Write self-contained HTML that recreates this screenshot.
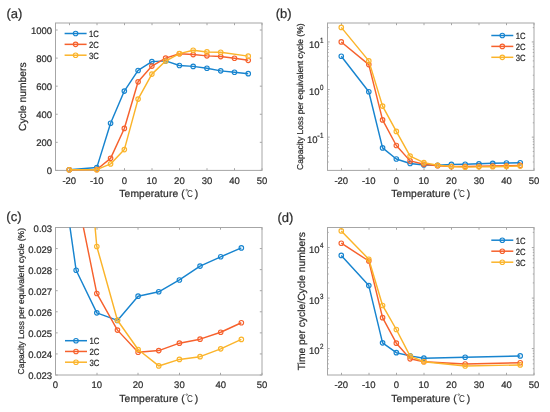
<!DOCTYPE html>
<html><head><meta charset="utf-8"><style>html,body{margin:0;padding:0;width:550px;height:412px;overflow:hidden;background:#fff}</style></head><body>
<svg width="550" height="412" viewBox="0 0 550 412" style="position:absolute;left:0;top:0;will-change:transform" text-rendering="geometricPrecision" font-family="'Liberation Sans', sans-serif" fill="#2e2e2e">
<style>text{stroke:#2e2e2e;stroke-width:0.22px}</style>
<rect width="550" height="412" fill="#fff"/>
<rect x="55.5" y="23.0" width="206.5" height="147.4" fill="none" stroke="#a6a6a6" stroke-width="1"/>
<path d="M69.5 170.4V168.20000000000002M69.5 23.0V25.2M97.0 170.4V168.20000000000002M97.0 23.0V25.2M124.5 170.4V168.20000000000002M124.5 23.0V25.2M152.0 170.4V168.20000000000002M152.0 23.0V25.2M179.5 170.4V168.20000000000002M179.5 23.0V25.2M207.0 170.4V168.20000000000002M207.0 23.0V25.2M234.5 170.4V168.20000000000002M234.5 23.0V25.2M262.0 170.4V168.20000000000002M262.0 23.0V25.2M55.5 170.40H57.7M262 170.40H259.8M55.5 142.32H57.7M262 142.32H259.8M55.5 114.25H57.7M262 114.25H259.8M55.5 86.17H57.7M262 86.17H259.8M55.5 58.10H57.7M262 58.10H259.8M55.5 30.02H57.7M262 30.02H259.8" stroke="#a6a6a6" stroke-width="1" fill="none"/>
<text x="69.27" y="183.60" text-anchor="middle" font-size="9.5">-20</text>
<text x="96.80" y="183.60" text-anchor="middle" font-size="9.5">-10</text>
<text x="124.33" y="183.60" text-anchor="middle" font-size="9.5">0</text>
<text x="151.87" y="183.60" text-anchor="middle" font-size="9.5">10</text>
<text x="179.40" y="183.60" text-anchor="middle" font-size="9.5">20</text>
<text x="206.93" y="183.60" text-anchor="middle" font-size="9.5">30</text>
<text x="234.47" y="183.60" text-anchor="middle" font-size="9.5">40</text>
<text x="262.00" y="183.60" text-anchor="middle" font-size="9.5">50</text>
<text x="52.10" y="174.20" text-anchor="end" font-size="9.5">0</text>
<text x="52.10" y="146.12" text-anchor="end" font-size="9.5">200</text>
<text x="52.10" y="118.05" text-anchor="end" font-size="9.5">400</text>
<text x="52.10" y="89.97" text-anchor="end" font-size="9.5">600</text>
<text x="52.10" y="61.90" text-anchor="end" font-size="9.5">800</text>
<text x="52.10" y="33.82" text-anchor="end" font-size="9.5">1000</text>
<g><polyline points="69.27,169.70 96.80,167.59 110.57,123.23 124.33,91.08 138.10,70.45 151.87,61.60 165.63,60.90 179.40,65.54 193.17,66.38 206.93,68.20 220.70,70.87 234.47,72.27 248.23,73.68" fill="none" stroke="#1784CF" stroke-width="1.45" stroke-linejoin="round"/>
<circle cx="69.27" cy="169.70" r="2.25" fill="none" stroke="#1784CF" stroke-width="1.15"/>
<circle cx="96.80" cy="167.59" r="2.25" fill="none" stroke="#1784CF" stroke-width="1.15"/>
<circle cx="110.57" cy="123.23" r="2.25" fill="none" stroke="#1784CF" stroke-width="1.15"/>
<circle cx="124.33" cy="91.08" r="2.25" fill="none" stroke="#1784CF" stroke-width="1.15"/>
<circle cx="138.10" cy="70.45" r="2.25" fill="none" stroke="#1784CF" stroke-width="1.15"/>
<circle cx="151.87" cy="61.60" r="2.25" fill="none" stroke="#1784CF" stroke-width="1.15"/>
<circle cx="165.63" cy="60.90" r="2.25" fill="none" stroke="#1784CF" stroke-width="1.15"/>
<circle cx="179.40" cy="65.54" r="2.25" fill="none" stroke="#1784CF" stroke-width="1.15"/>
<circle cx="193.17" cy="66.38" r="2.25" fill="none" stroke="#1784CF" stroke-width="1.15"/>
<circle cx="206.93" cy="68.20" r="2.25" fill="none" stroke="#1784CF" stroke-width="1.15"/>
<circle cx="220.70" cy="70.87" r="2.25" fill="none" stroke="#1784CF" stroke-width="1.15"/>
<circle cx="234.47" cy="72.27" r="2.25" fill="none" stroke="#1784CF" stroke-width="1.15"/>
<circle cx="248.23" cy="73.68" r="2.25" fill="none" stroke="#1784CF" stroke-width="1.15"/>
</g>
<g><polyline points="69.27,169.70 96.80,169.56 110.57,158.33 124.33,128.43 138.10,81.82 151.87,66.10 165.63,58.10 179.40,53.74 193.17,54.59 206.93,55.85 220.70,56.55 234.47,58.24 248.23,60.34" fill="none" stroke="#F6612D" stroke-width="1.45" stroke-linejoin="round"/>
<circle cx="69.27" cy="169.70" r="2.25" fill="none" stroke="#F6612D" stroke-width="1.15"/>
<circle cx="96.80" cy="169.56" r="2.25" fill="none" stroke="#F6612D" stroke-width="1.15"/>
<circle cx="110.57" cy="158.33" r="2.25" fill="none" stroke="#F6612D" stroke-width="1.15"/>
<circle cx="124.33" cy="128.43" r="2.25" fill="none" stroke="#F6612D" stroke-width="1.15"/>
<circle cx="138.10" cy="81.82" r="2.25" fill="none" stroke="#F6612D" stroke-width="1.15"/>
<circle cx="151.87" cy="66.10" r="2.25" fill="none" stroke="#F6612D" stroke-width="1.15"/>
<circle cx="165.63" cy="58.10" r="2.25" fill="none" stroke="#F6612D" stroke-width="1.15"/>
<circle cx="179.40" cy="53.74" r="2.25" fill="none" stroke="#F6612D" stroke-width="1.15"/>
<circle cx="193.17" cy="54.59" r="2.25" fill="none" stroke="#F6612D" stroke-width="1.15"/>
<circle cx="206.93" cy="55.85" r="2.25" fill="none" stroke="#F6612D" stroke-width="1.15"/>
<circle cx="220.70" cy="56.55" r="2.25" fill="none" stroke="#F6612D" stroke-width="1.15"/>
<circle cx="234.47" cy="58.24" r="2.25" fill="none" stroke="#F6612D" stroke-width="1.15"/>
<circle cx="248.23" cy="60.34" r="2.25" fill="none" stroke="#F6612D" stroke-width="1.15"/>
</g>
<g><polyline points="69.27,169.70 96.80,169.70 110.57,163.94 124.33,149.62 138.10,99.09 151.87,74.10 165.63,61.04 179.40,53.60 193.17,50.23 206.93,51.92 220.70,52.20 248.23,56.13" fill="none" stroke="#FBB42A" stroke-width="1.45" stroke-linejoin="round"/>
<circle cx="69.27" cy="169.70" r="2.25" fill="none" stroke="#FBB42A" stroke-width="1.15"/>
<circle cx="96.80" cy="169.70" r="2.25" fill="none" stroke="#FBB42A" stroke-width="1.15"/>
<circle cx="110.57" cy="163.94" r="2.25" fill="none" stroke="#FBB42A" stroke-width="1.15"/>
<circle cx="124.33" cy="149.62" r="2.25" fill="none" stroke="#FBB42A" stroke-width="1.15"/>
<circle cx="138.10" cy="99.09" r="2.25" fill="none" stroke="#FBB42A" stroke-width="1.15"/>
<circle cx="151.87" cy="74.10" r="2.25" fill="none" stroke="#FBB42A" stroke-width="1.15"/>
<circle cx="165.63" cy="61.04" r="2.25" fill="none" stroke="#FBB42A" stroke-width="1.15"/>
<circle cx="179.40" cy="53.60" r="2.25" fill="none" stroke="#FBB42A" stroke-width="1.15"/>
<circle cx="193.17" cy="50.23" r="2.25" fill="none" stroke="#FBB42A" stroke-width="1.15"/>
<circle cx="206.93" cy="51.92" r="2.25" fill="none" stroke="#FBB42A" stroke-width="1.15"/>
<circle cx="220.70" cy="52.20" r="2.25" fill="none" stroke="#FBB42A" stroke-width="1.15"/>
<circle cx="248.23" cy="56.13" r="2.25" fill="none" stroke="#FBB42A" stroke-width="1.15"/>
</g>
<path d="M64.6 33.50H86.6" stroke="#1784CF" stroke-width="1.5"/>
<circle cx="75.6" cy="33.50" r="2.25" fill="none" stroke="#1784CF" stroke-width="1.15"/>
<text x="89.0" y="36.80" font-size="9" textLength="9.9" lengthAdjust="spacingAndGlyphs">1C</text>
<path d="M64.6 44.35H86.6" stroke="#F6612D" stroke-width="1.5"/>
<circle cx="75.6" cy="44.35" r="2.25" fill="none" stroke="#F6612D" stroke-width="1.15"/>
<text x="89.0" y="47.65" font-size="9" textLength="9.9" lengthAdjust="spacingAndGlyphs">2C</text>
<path d="M64.6 55.20H86.6" stroke="#FBB42A" stroke-width="1.5"/>
<circle cx="75.6" cy="55.20" r="2.25" fill="none" stroke="#FBB42A" stroke-width="1.15"/>
<text x="89.0" y="58.50" font-size="9" textLength="9.9" lengthAdjust="spacingAndGlyphs">3C</text>
<text x="119.35" y="197" font-size="10.3" letter-spacing="0.1">Temperature (</text>
<circle cx="186.75" cy="190.10" r="0.8" fill="none" stroke="#2e2e2e" stroke-width="0.55"/>
<text x="186.95" y="197.10" font-size="10" style="stroke-width:0" textLength="5.9" lengthAdjust="spacingAndGlyphs">C</text>
<text x="194.65" y="197" font-size="10.3">)</text>
<text transform="translate(26.2,96.70) rotate(-90)" text-anchor="middle" font-size="10.3">Cycle numbers</text>
<text x="6.5" y="18.3" font-size="13">(a)</text>
<rect x="327.5" y="23.0" width="206.5" height="147.4" fill="none" stroke="#a6a6a6" stroke-width="1"/>
<path d="M341.5 170.4V168.20000000000002M341.5 23.0V25.2M369.0 170.4V168.20000000000002M369.0 23.0V25.2M396.5 170.4V168.20000000000002M396.5 23.0V25.2M424.0 170.4V168.20000000000002M424.0 23.0V25.2M451.5 170.4V168.20000000000002M451.5 23.0V25.2M479.0 170.4V168.20000000000002M479.0 23.0V25.2M506.5 170.4V168.20000000000002M506.5 23.0V25.2M534.0 170.4V168.20000000000002M534.0 23.0V25.2M327.5 137.13H329.7M534 137.13H531.8M327.5 89.54H329.7M534 89.54H531.8M327.5 41.94H329.7M534 41.94H531.8M327.5 162.02H328.7M534 162.02H532.8M327.5 156.07H328.7M534 156.07H532.8M327.5 151.46H328.7M534 151.46H532.8M327.5 147.69H328.7M534 147.69H532.8M327.5 144.50H328.7M534 144.50H532.8M327.5 141.74H328.7M534 141.74H532.8M327.5 139.31H328.7M534 139.31H532.8M327.5 122.80H328.7M534 122.80H532.8M327.5 114.42H328.7M534 114.42H532.8M327.5 108.48H328.7M534 108.48H532.8M327.5 103.86H328.7M534 103.86H532.8M327.5 100.10H328.7M534 100.10H532.8M327.5 96.91H328.7M534 96.91H532.8M327.5 94.15H328.7M534 94.15H532.8M327.5 91.71H328.7M534 91.71H532.8M327.5 75.21H328.7M534 75.21H532.8M327.5 66.83H328.7M534 66.83H532.8M327.5 60.88H328.7M534 60.88H532.8M327.5 56.27H328.7M534 56.27H532.8M327.5 52.50H328.7M534 52.50H532.8M327.5 49.31H328.7M534 49.31H532.8M327.5 46.55H328.7M534 46.55H532.8M327.5 44.12H328.7M534 44.12H532.8M327.5 27.61H328.7M534 27.61H532.8" stroke="#a6a6a6" stroke-width="1" fill="none"/>
<text x="341.27" y="183.60" text-anchor="middle" font-size="9.5">-20</text>
<text x="368.80" y="183.60" text-anchor="middle" font-size="9.5">-10</text>
<text x="396.33" y="183.60" text-anchor="middle" font-size="9.5">0</text>
<text x="423.87" y="183.60" text-anchor="middle" font-size="9.5">10</text>
<text x="451.40" y="183.60" text-anchor="middle" font-size="9.5">20</text>
<text x="478.93" y="183.60" text-anchor="middle" font-size="9.5">30</text>
<text x="506.47" y="183.60" text-anchor="middle" font-size="9.5">40</text>
<text x="534.00" y="183.60" text-anchor="middle" font-size="9.5">50</text>
<text x="319.50" y="47.54" text-anchor="end" font-size="9.5">10</text>
<text transform="translate(319.90,42.54) scale(0.82,1)" font-size="7.6">1</text>
<text x="319.50" y="95.14" text-anchor="end" font-size="9.5">10</text>
<text transform="translate(319.90,90.14) scale(0.82,1)" font-size="7.6">0</text>
<text x="317.60" y="142.73" text-anchor="end" font-size="9.5">10</text>
<path d="M317.40 136.13H319.60" stroke="#2e2e2e" stroke-width="1"/>
<text transform="translate(319.90,137.73) scale(0.82,1)" font-size="7.6">1</text>
<g><polyline points="341.27,56.27 368.80,91.71 382.57,147.93 396.33,158.95 410.10,163.47 423.87,165.02 437.63,165.31 451.40,164.40 465.17,164.23 478.93,163.81 492.70,163.32 506.47,163.00 520.23,162.70" fill="none" stroke="#1784CF" stroke-width="1.45" stroke-linejoin="round"/>
<circle cx="341.27" cy="56.27" r="2.25" fill="none" stroke="#1784CF" stroke-width="1.15"/>
<circle cx="368.80" cy="91.71" r="2.25" fill="none" stroke="#1784CF" stroke-width="1.15"/>
<circle cx="382.57" cy="147.93" r="2.25" fill="none" stroke="#1784CF" stroke-width="1.15"/>
<circle cx="396.33" cy="158.95" r="2.25" fill="none" stroke="#1784CF" stroke-width="1.15"/>
<circle cx="410.10" cy="163.47" r="2.25" fill="none" stroke="#1784CF" stroke-width="1.15"/>
<circle cx="423.87" cy="165.02" r="2.25" fill="none" stroke="#1784CF" stroke-width="1.15"/>
<circle cx="437.63" cy="165.31" r="2.25" fill="none" stroke="#1784CF" stroke-width="1.15"/>
<circle cx="451.40" cy="164.40" r="2.25" fill="none" stroke="#1784CF" stroke-width="1.15"/>
<circle cx="465.17" cy="164.23" r="2.25" fill="none" stroke="#1784CF" stroke-width="1.15"/>
<circle cx="478.93" cy="163.81" r="2.25" fill="none" stroke="#1784CF" stroke-width="1.15"/>
<circle cx="492.70" cy="163.32" r="2.25" fill="none" stroke="#1784CF" stroke-width="1.15"/>
<circle cx="506.47" cy="163.00" r="2.25" fill="none" stroke="#1784CF" stroke-width="1.15"/>
<circle cx="520.23" cy="162.70" r="2.25" fill="none" stroke="#1784CF" stroke-width="1.15"/>
</g>
<g><polyline points="341.27,41.94 368.80,64.61 382.57,119.92 396.33,145.50 410.10,160.88 423.87,164.30 437.63,165.68 451.40,166.56 465.17,166.49 478.93,166.20 492.70,166.04 506.47,165.76 520.23,165.39" fill="none" stroke="#F6612D" stroke-width="1.45" stroke-linejoin="round"/>
<circle cx="341.27" cy="41.94" r="2.25" fill="none" stroke="#F6612D" stroke-width="1.15"/>
<circle cx="368.80" cy="64.61" r="2.25" fill="none" stroke="#F6612D" stroke-width="1.15"/>
<circle cx="382.57" cy="119.92" r="2.25" fill="none" stroke="#F6612D" stroke-width="1.15"/>
<circle cx="396.33" cy="145.50" r="2.25" fill="none" stroke="#F6612D" stroke-width="1.15"/>
<circle cx="410.10" cy="160.88" r="2.25" fill="none" stroke="#F6612D" stroke-width="1.15"/>
<circle cx="423.87" cy="164.30" r="2.25" fill="none" stroke="#F6612D" stroke-width="1.15"/>
<circle cx="437.63" cy="165.68" r="2.25" fill="none" stroke="#F6612D" stroke-width="1.15"/>
<circle cx="451.40" cy="166.56" r="2.25" fill="none" stroke="#F6612D" stroke-width="1.15"/>
<circle cx="465.17" cy="166.49" r="2.25" fill="none" stroke="#F6612D" stroke-width="1.15"/>
<circle cx="478.93" cy="166.20" r="2.25" fill="none" stroke="#F6612D" stroke-width="1.15"/>
<circle cx="492.70" cy="166.04" r="2.25" fill="none" stroke="#F6612D" stroke-width="1.15"/>
<circle cx="506.47" cy="165.76" r="2.25" fill="none" stroke="#F6612D" stroke-width="1.15"/>
<circle cx="520.23" cy="165.39" r="2.25" fill="none" stroke="#F6612D" stroke-width="1.15"/>
</g>
<g><polyline points="341.27,27.41 368.80,60.88 382.57,106.09 396.33,131.39 410.10,156.07 423.87,162.65 437.63,165.30 451.40,166.45 465.17,167.13 478.93,166.86 492.70,166.74 506.47,166.43 520.23,166.05" fill="none" stroke="#FBB42A" stroke-width="1.45" stroke-linejoin="round"/>
<circle cx="341.27" cy="27.41" r="2.25" fill="none" stroke="#FBB42A" stroke-width="1.15"/>
<circle cx="368.80" cy="60.88" r="2.25" fill="none" stroke="#FBB42A" stroke-width="1.15"/>
<circle cx="382.57" cy="106.09" r="2.25" fill="none" stroke="#FBB42A" stroke-width="1.15"/>
<circle cx="396.33" cy="131.39" r="2.25" fill="none" stroke="#FBB42A" stroke-width="1.15"/>
<circle cx="410.10" cy="156.07" r="2.25" fill="none" stroke="#FBB42A" stroke-width="1.15"/>
<circle cx="423.87" cy="162.65" r="2.25" fill="none" stroke="#FBB42A" stroke-width="1.15"/>
<circle cx="437.63" cy="165.30" r="2.25" fill="none" stroke="#FBB42A" stroke-width="1.15"/>
<circle cx="451.40" cy="166.45" r="2.25" fill="none" stroke="#FBB42A" stroke-width="1.15"/>
<circle cx="465.17" cy="167.13" r="2.25" fill="none" stroke="#FBB42A" stroke-width="1.15"/>
<circle cx="478.93" cy="166.86" r="2.25" fill="none" stroke="#FBB42A" stroke-width="1.15"/>
<circle cx="492.70" cy="166.74" r="2.25" fill="none" stroke="#FBB42A" stroke-width="1.15"/>
<circle cx="506.47" cy="166.43" r="2.25" fill="none" stroke="#FBB42A" stroke-width="1.15"/>
<circle cx="520.23" cy="166.05" r="2.25" fill="none" stroke="#FBB42A" stroke-width="1.15"/>
</g>
<path d="M491.3 35.50H513.3" stroke="#1784CF" stroke-width="1.5"/>
<circle cx="502.3" cy="35.50" r="2.25" fill="none" stroke="#1784CF" stroke-width="1.15"/>
<text x="515.6999999999999" y="38.80" font-size="9" textLength="9.9" lengthAdjust="spacingAndGlyphs">1C</text>
<path d="M491.3 46.40H513.3" stroke="#F6612D" stroke-width="1.5"/>
<circle cx="502.3" cy="46.40" r="2.25" fill="none" stroke="#F6612D" stroke-width="1.15"/>
<text x="515.6999999999999" y="49.70" font-size="9" textLength="9.9" lengthAdjust="spacingAndGlyphs">2C</text>
<path d="M491.3 57.30H513.3" stroke="#FBB42A" stroke-width="1.5"/>
<circle cx="502.3" cy="57.30" r="2.25" fill="none" stroke="#FBB42A" stroke-width="1.15"/>
<text x="515.6999999999999" y="60.60" font-size="9" textLength="9.9" lengthAdjust="spacingAndGlyphs">3C</text>
<text x="391.35" y="197" font-size="10.3" letter-spacing="0.1">Temperature (</text>
<circle cx="458.75" cy="190.10" r="0.8" fill="none" stroke="#2e2e2e" stroke-width="0.55"/>
<text x="458.95" y="197.10" font-size="10" style="stroke-width:0" textLength="5.9" lengthAdjust="spacingAndGlyphs">C</text>
<text x="466.65" y="197" font-size="10.3">)</text>
<text transform="translate(303.4,96.70) rotate(-90)" text-anchor="middle" font-size="8.5">Capacity Loss per equivalent cycle (%)</text>
<text x="275.7" y="18.3" font-size="13">(b)</text>
<defs><clipPath id="cc"><rect x="55.5" y="227.5" width="206.5" height="147.5"/></clipPath></defs>
<rect x="55.5" y="227.5" width="206.5" height="147.5" fill="none" stroke="#a6a6a6" stroke-width="1"/>
<path d="M55.5 375.0V372.8M55.5 227.5V229.7M97.0 375.0V372.8M97.0 227.5V229.7M138.0 375.0V372.8M138.0 227.5V229.7M179.5 375.0V372.8M179.5 227.5V229.7M220.5 375.0V372.8M220.5 227.5V229.7M262.0 375.0V372.8M262.0 227.5V229.7M55.5 375.00H57.7M262 375.00H259.8M55.5 353.93H57.7M262 353.93H259.8M55.5 332.86H57.7M262 332.86H259.8M55.5 311.79H57.7M262 311.79H259.8M55.5 290.71H57.7M262 290.71H259.8M55.5 269.64H57.7M262 269.64H259.8M55.5 248.57H57.7M262 248.57H259.8M55.5 227.50H57.7M262 227.50H259.8" stroke="#a6a6a6" stroke-width="1" fill="none"/>
<text x="55.50" y="388.20" text-anchor="middle" font-size="9.5">0</text>
<text x="96.80" y="388.20" text-anchor="middle" font-size="9.5">10</text>
<text x="138.10" y="388.20" text-anchor="middle" font-size="9.5">20</text>
<text x="179.40" y="388.20" text-anchor="middle" font-size="9.5">30</text>
<text x="220.70" y="388.20" text-anchor="middle" font-size="9.5">40</text>
<text x="262.00" y="388.20" text-anchor="middle" font-size="9.5">50</text>
<text x="52.10" y="379.30" text-anchor="end" font-size="9.5">0.023</text>
<text x="52.10" y="358.23" text-anchor="end" font-size="9.5">0.024</text>
<text x="52.10" y="337.16" text-anchor="end" font-size="9.5">0.025</text>
<text x="52.10" y="316.09" text-anchor="end" font-size="9.5">0.026</text>
<text x="52.10" y="295.01" text-anchor="end" font-size="9.5">0.027</text>
<text x="52.10" y="273.94" text-anchor="end" font-size="9.5">0.028</text>
<text x="52.10" y="252.87" text-anchor="end" font-size="9.5">0.029</text>
<text x="52.10" y="231.80" text-anchor="end" font-size="9.5">0.03</text>
<g clip-path="url(#cc)"><polyline points="-27.10,-104497.50 14.20,-18104.64 34.85,-389.89 55.50,126.36 76.15,270.28 96.80,312.84 117.45,320.42 138.10,296.19 158.75,291.77 179.40,279.97 200.05,266.06 220.70,256.79 241.35,247.94" fill="none" stroke="#1784CF" stroke-width="1.45" stroke-linejoin="round"/>
<circle cx="-27.10" cy="-104497.50" r="2.25" fill="none" stroke="#1784CF" stroke-width="1.15"/>
<circle cx="14.20" cy="-18104.64" r="2.25" fill="none" stroke="#1784CF" stroke-width="1.15"/>
<circle cx="34.85" cy="-389.89" r="2.25" fill="none" stroke="#1784CF" stroke-width="1.15"/>
<circle cx="55.50" cy="126.36" r="2.25" fill="none" stroke="#1784CF" stroke-width="1.15"/>
<circle cx="76.15" cy="270.28" r="2.25" fill="none" stroke="#1784CF" stroke-width="1.15"/>
<circle cx="96.80" cy="312.84" r="2.25" fill="none" stroke="#1784CF" stroke-width="1.15"/>
<circle cx="117.45" cy="320.42" r="2.25" fill="none" stroke="#1784CF" stroke-width="1.15"/>
<circle cx="138.10" cy="296.19" r="2.25" fill="none" stroke="#1784CF" stroke-width="1.15"/>
<circle cx="158.75" cy="291.77" r="2.25" fill="none" stroke="#1784CF" stroke-width="1.15"/>
<circle cx="179.40" cy="279.97" r="2.25" fill="none" stroke="#1784CF" stroke-width="1.15"/>
<circle cx="200.05" cy="266.06" r="2.25" fill="none" stroke="#1784CF" stroke-width="1.15"/>
<circle cx="220.70" cy="256.79" r="2.25" fill="none" stroke="#1784CF" stroke-width="1.15"/>
<circle cx="241.35" cy="247.94" r="2.25" fill="none" stroke="#1784CF" stroke-width="1.15"/>
</g>
<g clip-path="url(#cc)"><polyline points="-27.10,-209854.64 14.20,-69518.93 34.85,-3986.79 55.50,-545.82 76.15,191.68 96.80,293.45 117.45,330.12 138.10,352.24 158.75,350.56 179.40,343.18 200.05,339.18 220.70,332.22 241.35,322.74" fill="none" stroke="#F6612D" stroke-width="1.45" stroke-linejoin="round"/>
<circle cx="-27.10" cy="-209854.64" r="2.25" fill="none" stroke="#F6612D" stroke-width="1.15"/>
<circle cx="14.20" cy="-69518.93" r="2.25" fill="none" stroke="#F6612D" stroke-width="1.15"/>
<circle cx="34.85" cy="-3986.79" r="2.25" fill="none" stroke="#F6612D" stroke-width="1.15"/>
<circle cx="55.50" cy="-545.82" r="2.25" fill="none" stroke="#F6612D" stroke-width="1.15"/>
<circle cx="76.15" cy="191.68" r="2.25" fill="none" stroke="#F6612D" stroke-width="1.15"/>
<circle cx="96.80" cy="293.45" r="2.25" fill="none" stroke="#F6612D" stroke-width="1.15"/>
<circle cx="117.45" cy="330.12" r="2.25" fill="none" stroke="#F6612D" stroke-width="1.15"/>
<circle cx="138.10" cy="352.24" r="2.25" fill="none" stroke="#F6612D" stroke-width="1.15"/>
<circle cx="158.75" cy="350.56" r="2.25" fill="none" stroke="#F6612D" stroke-width="1.15"/>
<circle cx="179.40" cy="343.18" r="2.25" fill="none" stroke="#F6612D" stroke-width="1.15"/>
<circle cx="200.05" cy="339.18" r="2.25" fill="none" stroke="#F6612D" stroke-width="1.15"/>
<circle cx="220.70" cy="332.22" r="2.25" fill="none" stroke="#F6612D" stroke-width="1.15"/>
<circle cx="241.35" cy="322.74" r="2.25" fill="none" stroke="#F6612D" stroke-width="1.15"/>
</g>
<g clip-path="url(#cc)"><polyline points="-27.10,-424783.21 14.20,-83426.07 34.85,-8601.43 55.50,-1921.79 76.15,16.79 96.80,246.46 117.45,320.21 138.10,349.50 158.75,365.94 179.40,359.41 200.05,356.67 220.70,348.87 241.35,339.39" fill="none" stroke="#FBB42A" stroke-width="1.45" stroke-linejoin="round"/>
<circle cx="-27.10" cy="-424783.21" r="2.25" fill="none" stroke="#FBB42A" stroke-width="1.15"/>
<circle cx="14.20" cy="-83426.07" r="2.25" fill="none" stroke="#FBB42A" stroke-width="1.15"/>
<circle cx="34.85" cy="-8601.43" r="2.25" fill="none" stroke="#FBB42A" stroke-width="1.15"/>
<circle cx="55.50" cy="-1921.79" r="2.25" fill="none" stroke="#FBB42A" stroke-width="1.15"/>
<circle cx="76.15" cy="16.79" r="2.25" fill="none" stroke="#FBB42A" stroke-width="1.15"/>
<circle cx="96.80" cy="246.46" r="2.25" fill="none" stroke="#FBB42A" stroke-width="1.15"/>
<circle cx="117.45" cy="320.21" r="2.25" fill="none" stroke="#FBB42A" stroke-width="1.15"/>
<circle cx="138.10" cy="349.50" r="2.25" fill="none" stroke="#FBB42A" stroke-width="1.15"/>
<circle cx="158.75" cy="365.94" r="2.25" fill="none" stroke="#FBB42A" stroke-width="1.15"/>
<circle cx="179.40" cy="359.41" r="2.25" fill="none" stroke="#FBB42A" stroke-width="1.15"/>
<circle cx="200.05" cy="356.67" r="2.25" fill="none" stroke="#FBB42A" stroke-width="1.15"/>
<circle cx="220.70" cy="348.87" r="2.25" fill="none" stroke="#FBB42A" stroke-width="1.15"/>
<circle cx="241.35" cy="339.39" r="2.25" fill="none" stroke="#FBB42A" stroke-width="1.15"/>
</g>
<path d="M65 340.70H87" stroke="#1784CF" stroke-width="1.5"/>
<circle cx="76.0" cy="340.70" r="2.25" fill="none" stroke="#1784CF" stroke-width="1.15"/>
<text x="89.4" y="344.00" font-size="9" textLength="9.9" lengthAdjust="spacingAndGlyphs">1C</text>
<path d="M65 351.45H87" stroke="#F6612D" stroke-width="1.5"/>
<circle cx="76.0" cy="351.45" r="2.25" fill="none" stroke="#F6612D" stroke-width="1.15"/>
<text x="89.4" y="354.75" font-size="9" textLength="9.9" lengthAdjust="spacingAndGlyphs">2C</text>
<path d="M65 362.20H87" stroke="#FBB42A" stroke-width="1.5"/>
<circle cx="76.0" cy="362.20" r="2.25" fill="none" stroke="#FBB42A" stroke-width="1.15"/>
<text x="89.4" y="365.50" font-size="9" textLength="9.9" lengthAdjust="spacingAndGlyphs">3C</text>
<text x="119.35" y="401.5" font-size="10.3" letter-spacing="0.1">Temperature (</text>
<circle cx="186.75" cy="394.60" r="0.8" fill="none" stroke="#2e2e2e" stroke-width="0.55"/>
<text x="186.95" y="401.60" font-size="10" style="stroke-width:0" textLength="5.9" lengthAdjust="spacingAndGlyphs">C</text>
<text x="194.65" y="401.5" font-size="10.3">)</text>
<text transform="translate(24.4,301.25) rotate(-90)" text-anchor="middle" font-size="8.5">Capacity Loss per equivalent cycle (%)</text>
<text x="6.3" y="220.7" font-size="13">(c)</text>
<rect x="327.5" y="227.5" width="206.5" height="147.5" fill="none" stroke="#a6a6a6" stroke-width="1"/>
<path d="M341.5 375.0V372.8M341.5 227.5V229.7M369.0 375.0V372.8M369.0 227.5V229.7M396.5 375.0V372.8M396.5 227.5V229.7M424.0 375.0V372.8M424.0 227.5V229.7M451.5 375.0V372.8M451.5 227.5V229.7M479.0 375.0V372.8M479.0 227.5V229.7M506.5 375.0V372.8M506.5 227.5V229.7M534.0 375.0V372.8M534.0 227.5V229.7M327.5 348.59H329.7M534 348.59H531.8M327.5 298.10H329.7M534 298.10H531.8M327.5 247.60H329.7M534 247.60H531.8M327.5 368.69H328.7M534 368.69H532.8M327.5 363.80H328.7M534 363.80H532.8M327.5 359.80H328.7M534 359.80H532.8M327.5 356.42H328.7M534 356.42H532.8M327.5 353.49H328.7M534 353.49H532.8M327.5 350.91H328.7M534 350.91H532.8M327.5 333.39H328.7M534 333.39H532.8M327.5 324.50H328.7M534 324.50H532.8M327.5 318.19H328.7M534 318.19H532.8M327.5 313.30H328.7M534 313.30H532.8M327.5 309.30H328.7M534 309.30H532.8M327.5 305.92H328.7M534 305.92H532.8M327.5 302.99H328.7M534 302.99H532.8M327.5 300.41H328.7M534 300.41H532.8M327.5 282.89H328.7M534 282.89H532.8M327.5 274.00H328.7M534 274.00H532.8M327.5 267.69H328.7M534 267.69H532.8M327.5 262.80H328.7M534 262.80H532.8M327.5 258.80H328.7M534 258.80H532.8M327.5 255.42H328.7M534 255.42H532.8M327.5 252.49H328.7M534 252.49H532.8M327.5 249.91H328.7M534 249.91H532.8M327.5 232.39H328.7M534 232.39H532.8" stroke="#a6a6a6" stroke-width="1" fill="none"/>
<text x="341.27" y="388.20" text-anchor="middle" font-size="9.5">-20</text>
<text x="368.80" y="388.20" text-anchor="middle" font-size="9.5">-10</text>
<text x="396.33" y="388.20" text-anchor="middle" font-size="9.5">0</text>
<text x="423.87" y="388.20" text-anchor="middle" font-size="9.5">10</text>
<text x="451.40" y="388.20" text-anchor="middle" font-size="9.5">20</text>
<text x="478.93" y="388.20" text-anchor="middle" font-size="9.5">30</text>
<text x="506.47" y="388.20" text-anchor="middle" font-size="9.5">40</text>
<text x="534.00" y="388.20" text-anchor="middle" font-size="9.5">50</text>
<text x="319.50" y="253.20" text-anchor="end" font-size="9.5">10</text>
<text transform="translate(319.90,248.20) scale(0.82,1)" font-size="7.6">4</text>
<text x="319.50" y="303.70" text-anchor="end" font-size="9.5">10</text>
<text transform="translate(319.90,298.70) scale(0.82,1)" font-size="7.6">3</text>
<text x="319.50" y="354.19" text-anchor="end" font-size="9.5">10</text>
<text transform="translate(319.90,349.19) scale(0.82,1)" font-size="7.6">2</text>
<g><polyline points="341.27,255.42 368.80,285.57 382.57,342.84 396.33,352.68 410.10,355.89 423.87,358.18 465.17,357.28 520.23,355.92" fill="none" stroke="#1784CF" stroke-width="1.45" stroke-linejoin="round"/>
<circle cx="341.27" cy="255.42" r="2.25" fill="none" stroke="#1784CF" stroke-width="1.15"/>
<circle cx="368.80" cy="285.57" r="2.25" fill="none" stroke="#1784CF" stroke-width="1.15"/>
<circle cx="382.57" cy="342.84" r="2.25" fill="none" stroke="#1784CF" stroke-width="1.15"/>
<circle cx="396.33" cy="352.68" r="2.25" fill="none" stroke="#1784CF" stroke-width="1.15"/>
<circle cx="410.10" cy="355.89" r="2.25" fill="none" stroke="#1784CF" stroke-width="1.15"/>
<circle cx="423.87" cy="358.18" r="2.25" fill="none" stroke="#1784CF" stroke-width="1.15"/>
<circle cx="465.17" cy="357.28" r="2.25" fill="none" stroke="#1784CF" stroke-width="1.15"/>
<circle cx="520.23" cy="355.92" r="2.25" fill="none" stroke="#1784CF" stroke-width="1.15"/>
</g>
<g><polyline points="341.27,243.23 368.80,260.99 382.57,317.65 396.33,343.18 410.10,358.80 423.87,361.71 465.17,364.02 520.23,362.77" fill="none" stroke="#F6612D" stroke-width="1.45" stroke-linejoin="round"/>
<circle cx="341.27" cy="243.23" r="2.25" fill="none" stroke="#F6612D" stroke-width="1.15"/>
<circle cx="368.80" cy="260.99" r="2.25" fill="none" stroke="#F6612D" stroke-width="1.15"/>
<circle cx="382.57" cy="317.65" r="2.25" fill="none" stroke="#F6612D" stroke-width="1.15"/>
<circle cx="396.33" cy="343.18" r="2.25" fill="none" stroke="#F6612D" stroke-width="1.15"/>
<circle cx="410.10" cy="358.80" r="2.25" fill="none" stroke="#F6612D" stroke-width="1.15"/>
<circle cx="423.87" cy="361.71" r="2.25" fill="none" stroke="#F6612D" stroke-width="1.15"/>
<circle cx="465.17" cy="364.02" r="2.25" fill="none" stroke="#F6612D" stroke-width="1.15"/>
<circle cx="520.23" cy="362.77" r="2.25" fill="none" stroke="#F6612D" stroke-width="1.15"/>
</g>
<g><polyline points="341.27,230.91 368.80,259.20 382.57,305.45 396.33,329.49 410.10,356.11 423.87,361.71 465.17,366.01 520.23,364.92" fill="none" stroke="#FBB42A" stroke-width="1.45" stroke-linejoin="round"/>
<circle cx="341.27" cy="230.91" r="2.25" fill="none" stroke="#FBB42A" stroke-width="1.15"/>
<circle cx="368.80" cy="259.20" r="2.25" fill="none" stroke="#FBB42A" stroke-width="1.15"/>
<circle cx="382.57" cy="305.45" r="2.25" fill="none" stroke="#FBB42A" stroke-width="1.15"/>
<circle cx="396.33" cy="329.49" r="2.25" fill="none" stroke="#FBB42A" stroke-width="1.15"/>
<circle cx="410.10" cy="356.11" r="2.25" fill="none" stroke="#FBB42A" stroke-width="1.15"/>
<circle cx="423.87" cy="361.71" r="2.25" fill="none" stroke="#FBB42A" stroke-width="1.15"/>
<circle cx="465.17" cy="366.01" r="2.25" fill="none" stroke="#FBB42A" stroke-width="1.15"/>
<circle cx="520.23" cy="364.92" r="2.25" fill="none" stroke="#FBB42A" stroke-width="1.15"/>
</g>
<path d="M491.3 240.20H513.3" stroke="#1784CF" stroke-width="1.5"/>
<circle cx="502.3" cy="240.20" r="2.25" fill="none" stroke="#1784CF" stroke-width="1.15"/>
<text x="515.6999999999999" y="243.50" font-size="9" textLength="9.9" lengthAdjust="spacingAndGlyphs">1C</text>
<path d="M491.3 251.20H513.3" stroke="#F6612D" stroke-width="1.5"/>
<circle cx="502.3" cy="251.20" r="2.25" fill="none" stroke="#F6612D" stroke-width="1.15"/>
<text x="515.6999999999999" y="254.50" font-size="9" textLength="9.9" lengthAdjust="spacingAndGlyphs">2C</text>
<path d="M491.3 262.20H513.3" stroke="#FBB42A" stroke-width="1.5"/>
<circle cx="502.3" cy="262.20" r="2.25" fill="none" stroke="#FBB42A" stroke-width="1.15"/>
<text x="515.6999999999999" y="265.50" font-size="9" textLength="9.9" lengthAdjust="spacingAndGlyphs">3C</text>
<text x="391.35" y="401.5" font-size="10.3" letter-spacing="0.1">Temperature (</text>
<circle cx="458.75" cy="394.60" r="0.8" fill="none" stroke="#2e2e2e" stroke-width="0.55"/>
<text x="458.95" y="401.60" font-size="10" style="stroke-width:0" textLength="5.9" lengthAdjust="spacingAndGlyphs">C</text>
<text x="466.65" y="401.5" font-size="10.3">)</text>
<text transform="translate(304.9,301.25) rotate(-90)" text-anchor="middle" font-size="10.3">Time per cycle/Cycle numbers</text>
<text x="277.5" y="221.8" font-size="13">(d)</text>
</svg>
</body></html>
